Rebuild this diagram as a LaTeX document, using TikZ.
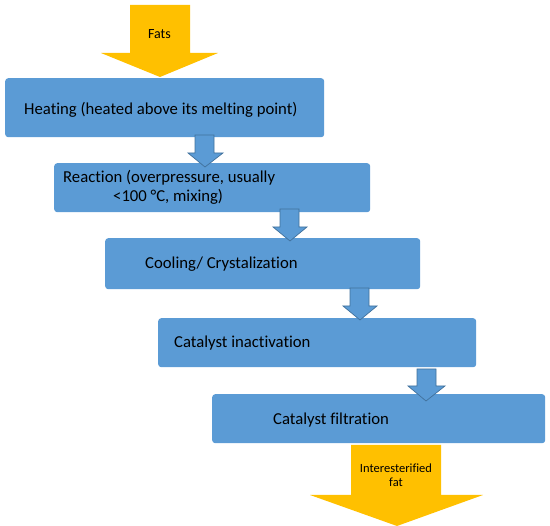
\documentclass[tikz,border=0pt]{standalone}
\usepackage{fontspec}
\setmainfont[Ligatures={NoCommon}]{Carlito}
\definecolor{boxblue}{HTML}{5B9BD5}
\definecolor{boxline}{HTML}{41719C}
\definecolor{fatyellow}{HTML}{FFC000}
\begin{document}
\begin{tikzpicture}[x=1pt,y=-1pt,
  stepbox/.style={fill=boxblue, draw=none, rounded corners=3pt, inner sep=0pt},
  bigarrow/.style={fill=fatyellow, draw=none},
  smallarrow/.style={fill=boxblue, draw=boxline, line width=0.7pt, line join=miter},
  lbl/.style={font=\fontsize{16.7}{20}\selectfont, text=black, inner sep=0pt, anchor=base west},
  small/.style={font=\fontsize{12.5}{14}\selectfont, text=black, inner sep=0pt, anchor=base}]
\useasboundingbox (0,0) rectangle (550,526);
% boxes
\node[stepbox, minimum width=319pt, minimum height=59pt, anchor=north west] (b1) at (5,78) {};
\node[stepbox, minimum width=316pt, minimum height=49pt, anchor=north west] (b2) at (54,163) {};
\node[stepbox, minimum width=315pt, minimum height=51pt, anchor=north west] (b3) at (105,238) {};
\node[stepbox, minimum width=318pt, minimum height=49pt, anchor=north west] (b4) at (158,318) {};
\node[stepbox, minimum width=333pt, minimum height=49pt, anchor=north west] (b5) at (212,394) {};
% labels
\node[lbl] (t1) at (24,115) {Heating (heated above its melting point)};
\node[lbl] (t2a) at (63,182.5) {Reaction (overpressure, usually};
\node[lbl] (t2b) at (113,201.5) {<100 °C, mixing)};
\node[lbl] (t3) at (145,269) {Cooling/ Crystalization};
\node[lbl] (t4) at (174,348) {Catalyst inactivation};
\node[lbl] (t5) at (273,425) {Catalyst filtration};
% top yellow arrow
\draw[bigarrow] (130,5) -- (190,5) -- (190,53) -- (218,53) -- (160,77) -- (101,53) -- (130,53) -- cycle;
\node[small, font=\fontsize{14}{16}\selectfont] (fats) at (159.5,39) {Fats};
% small arrows
\draw[smallarrow] (195,135) -- (214,135) -- (214,153) -- (223,153) -- (205,167) -- (188,153) -- (195,153) -- cycle;
\draw[smallarrow] (280,209) -- (299,209) -- (299,227) -- (307,227) -- (290,241) -- (273,227) -- (280,227) -- cycle;
\draw[smallarrow] (350,288) -- (369,288) -- (369,306) -- (377,306) -- (360,320) -- (343,306) -- (350,306) -- cycle;
\draw[smallarrow] (417,369) -- (436,369) -- (436,386) -- (445,386) -- (426,401) -- (408,386) -- (417,386) -- cycle;
% bottom yellow arrow
\draw[bigarrow] (351,445) -- (441,445) -- (441,495) -- (483,495) -- (397,526) -- (310,495) -- (351,495) -- cycle;
\node[small] (out1) at (396,472.5) {Interesterified};
\node[small] (out2) at (396,486.5) {fat};
\end{tikzpicture}
\end{document}
